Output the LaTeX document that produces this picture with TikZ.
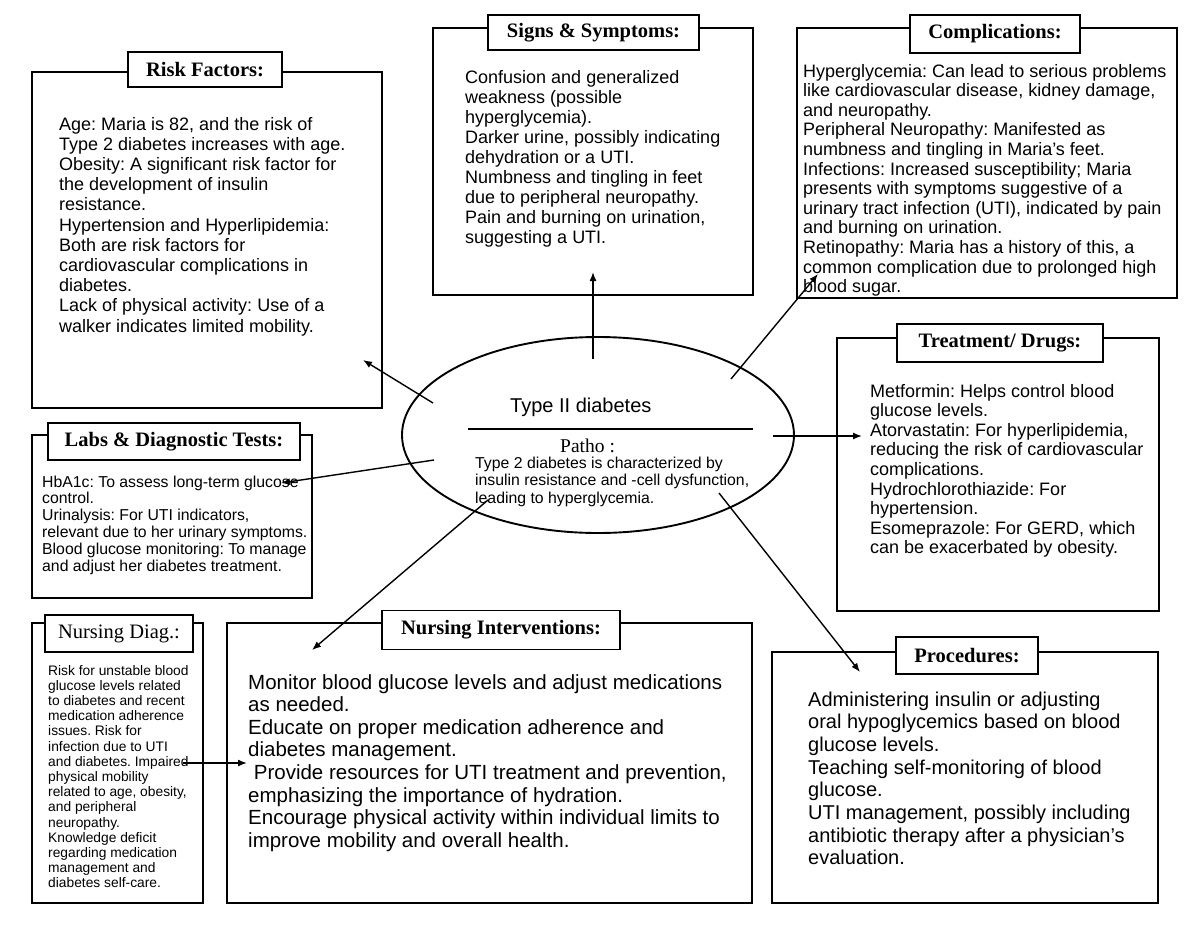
\documentclass[tikz,border=0pt]{standalone}
\usepackage{fontspec}
\setmainfont{Liberation Sans}
\newfontfamily\serf{Liberation Serif}
\usetikzlibrary{arrows.meta,shapes.geometric}
\frenchspacing
\begin{document}
\begin{tikzpicture}[x=1pt,y=-1pt,
  box/.style={draw,line width=1.9pt,inner sep=0pt},
  ttl/.style={draw,line width=1.9pt,fill=white,inner sep=0pt,font=\serf\bfseries\fontsize{20.5}{22}\selectfont},
  body/.style={anchor=base west,align=left,inner sep=0pt},
  arr/.style={line width=1.4pt,-{Latex[length=9pt,width=7pt]}}
]
\useasboundingbox[fill=white] (0,0) rectangle (1200,927);

% ---------- boxes ----------
\node[box,minimum width=350pt,minimum height=336pt] (rf) at (207,240) {};
\node[ttl,minimum width=154pt,minimum height=35pt] (rft) at (205,69.5) {Risk Factors:};
\node[body,font=\fontsize{18}{20.2}\selectfont] (rfx) at (59,332) {Age: Maria is 82, and the risk of\\Type 2 diabetes increases with age.\\Obesity: A significant risk factor for\\the development of insulin\\resistance.\\Hypertension and Hyperlipidemia:\\Both are risk factors for\\cardiovascular complications in\\diabetes.\\Lack of physical activity: Use of a\\walker indicates limited mobility.};

\node[box,minimum width=320pt,minimum height=267pt] (ss) at (593,161.5) {};
\node[ttl,minimum width=211pt,minimum height=35pt] (sst) at (593.5,32.5) {Signs \& Symptoms:};
\node[body,font=\fontsize{18}{20}\selectfont] (ssx) at (465,243) {Confusion and generalized\\weakness (possible\\hyperglycemia).\\Darker urine, possibly indicating\\dehydration or a UTI.\\Numbness and tingling in feet\\due to peripheral neuropathy.\\Pain and burning on urination,\\suggesting a UTI.};

\node[box,minimum width=380pt,minimum height=270pt] (co) at (987,163) {};
\node[ttl,minimum width=170pt,minimum height=38pt] (cot) at (995,34) {Complications:};
\node[body,font=\fontsize{18}{19.6}\selectfont] (cox) at (803,292.6) {Hyperglycemia: Can lead to serious problems\\like cardiovascular disease, kidney damage,\\and neuropathy.\\Peripheral Neuropathy: Manifested as\\numbness and tingling in Maria's feet.\\Infections: Increased susceptibility; Maria\\presents with symptoms suggestive of a\\urinary tract infection (UTI), indicated by pain\\and burning on urination.\\Retinopathy: Maria has a history of this, a\\common complication due to prolonged high\\blood sugar.};

\node[box,minimum width=322pt,minimum height=273pt] (td) at (998,474.5) {};
\node[ttl,minimum width=206pt,minimum height=38pt] (tdt) at (1000,343) {Treatment/ Drugs:};
\node[body,font=\fontsize{18}{19.6}\selectfont] (tdx) at (870,553.8) {Metformin: Helps control blood\\glucose levels.\\Atorvastatin: For hyperlipidemia,\\reducing the risk of cardiovascular\\complications.\\Hydrochlorothiazide: For\\hypertension.\\Esomeprazole: For GERD, which\\can be exacerbated by obesity.};

\node[box,minimum width=280pt,minimum height=163pt] (ld) at (172,516.5) {};
\node[ttl,minimum width=252pt,minimum height=37pt] (ldt) at (174,441.5) {Labs \& Diagnostic Tests:};
\node[body,font=\fontsize{15.8}{16.8}\selectfont] (ldx) at (42,571) {HbA1c: To assess long-term glucose\\control.\\Urinalysis: For UTI indicators,\\relevant due to her urinary symptoms.\\Blood glucose monitoring: To manage\\and adjust her diabetes treatment.};

\node[box,minimum width=171pt,minimum height=280pt] (nd) at (117.5,763) {};
\node[ttl,minimum width=148pt,minimum height=37pt,font=\serf\fontsize{20.5}{22}\selectfont] (ndt) at (119,633.5) {Nursing Diag.:};
\node[body,font=\fontsize{13.8}{15.2}\selectfont] (ndx) at (48,887.8) {Risk for unstable blood\\glucose levels related\\to diabetes and recent\\medication adherence\\issues. Risk for\\infection due to UTI\\and diabetes. Impaired\\physical mobility\\related to age, obesity,\\and peripheral\\neuropathy.\\Knowledge deficit\\regarding medication\\management and\\diabetes self-care.};

\node[box,minimum width=525pt,minimum height=280pt] (ni) at (489.5,763) {};
\node[ttl,minimum width=238pt,minimum height=39pt] (nit) at (501,630) {Nursing Interventions:};
\node[body,font=\fontsize{20.5}{22.6}\selectfont] (nix) at (248,847.2) {Monitor blood glucose levels and adjust medications\\as needed.\\Educate on proper medication adherence and\\diabetes management.\\\hspace*{5.7pt}Provide resources for UTI treatment and prevention,\\emphasizing the importance of hydration.\\Encourage physical activity within individual limits to\\improve mobility and overall health.};

\node[box,minimum width=386pt,minimum height=251pt] (pr) at (965,777.5) {};
\node[ttl,minimum width=142pt,minimum height=37pt] (prt) at (967,655.5) {Procedures:};
\node[body,font=\fontsize{20}{22.7}\selectfont] (prx) at (808,864.9) {Administering insulin or adjusting\\oral hypoglycemics based on blood\\glucose levels.\\Teaching self-monitoring of blood\\glucose.\\UTI management, possibly including\\antibiotic therapy after a physician's\\evaluation.};

% ---------- central ellipse ----------
\node[draw,ellipse,line width=1.9pt,minimum width=392pt,minimum height=196pt,inner sep=0pt] (dm) at (598,435) {};
\node[anchor=base west,inner sep=0pt,font=\fontsize{20}{22}\selectfont] (dmt) at (510,412) {Type II diabetes};
\coordinate (pl1) at (468,429);
\coordinate (pl2) at (753,429);
\draw[line width=1.3pt] (pl1) -- (pl2);
\node[anchor=base west,inner sep=0pt,font=\serf\fontsize{19.5}{21}\selectfont] (pth) at (560,452) {Patho :};
\node[body,font=\fontsize{15.8}{17.5}\selectfont] (ptx) at (475,503) {Type 2 diabetes is characterized by\\insulin resistance and -cell dysfunction,\\leading to hyperglycemia.};

% ---------- connectors ----------
\coordinate (a1s) at (433,403); \coordinate (a1e) at (363,360);
\coordinate (a2s) at (593,359); \coordinate (a2e) at (593,272);
\coordinate (a3s) at (731,379); \coordinate (a3e) at (818,274);
\coordinate (a4s) at (773,436); \coordinate (a4e) at (862,436);
\coordinate (a5s) at (434,460); \coordinate (a5e) at (281,483);
\coordinate (a6s) at (488,500); \coordinate (a6e) at (312,650);
\coordinate (a7s) at (719,493); \coordinate (a7e) at (860,672);
\coordinate (a8s) at (183,763); \coordinate (a8e) at (247,763);
\draw[arr] (a1s) -- (a1e);
\draw[arr] (a2s) -- (a2e);
\draw[arr] (a3s) -- (a3e);
\draw[arr] (a4s) -- (a4e);
\draw[arr] (a5s) -- (a5e);
\draw[arr] (a6s) -- (a6e);
\draw[arr] (a7s) -- (a7e);
\draw[arr] (a8s) -- (a8e);
\end{tikzpicture}
\end{document}
